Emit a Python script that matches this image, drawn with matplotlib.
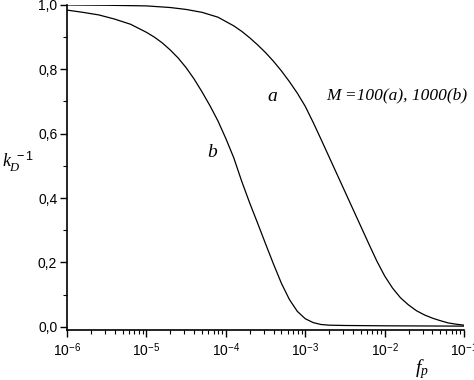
import matplotlib

matplotlib.use("Agg")
import matplotlib.pyplot as plt
import numpy as np
from matplotlib.ticker import FixedLocator, FuncFormatter, LogLocator, NullFormatter

# log10(f_p) positions and k_D^-1 values
logf_a = [-6.0, -5.5, -5.0, -4.7, -4.5, -4.3, -4.1, -3.9, -3.8, -3.7, -3.6, -3.5,
          -3.4, -3.3, -3.2, -3.1, -3.0, -2.9, -2.8, -2.7, -2.6, -2.5, -2.4, -2.3,
          -2.2, -2.1, -2.0, -1.9, -1.8, -1.7, -1.6, -1.5, -1.4, -1.3, -1.2, -1.1, -1.0]
kinv_a = [1.0, 0.999, 0.997, 0.992, 0.986, 0.977, 0.962, 0.935, 0.918, 0.898, 0.876, 0.852,
          0.825, 0.795, 0.762, 0.726, 0.685, 0.635, 0.582, 0.528, 0.474, 0.42, 0.366, 0.312,
          0.258, 0.205, 0.158, 0.12, 0.09, 0.068, 0.05, 0.037, 0.027, 0.019, 0.012, 0.008, 0.005]

logf_b = [-6.0, -5.8, -5.6, -5.4, -5.2, -5.0, -4.9, -4.8, -4.7, -4.6, -4.5, -4.4,
          -4.3, -4.2, -4.1, -4.0, -3.9, -3.8, -3.7, -3.6, -3.5, -3.4, -3.3, -3.2,
          -3.1, -3.0, -2.9, -2.8, -2.7, -2.5, -2.0, -1.0]
kinv_b = [0.984, 0.977, 0.969, 0.956, 0.94, 0.915, 0.90, 0.882, 0.86, 0.835, 0.805, 0.77,
          0.73, 0.687, 0.64, 0.585, 0.525, 0.452, 0.385, 0.322, 0.258, 0.195, 0.135, 0.085,
          0.048, 0.025, 0.013, 0.007, 0.005, 0.004, 0.003, 0.002]

y_ticks = [0.0, 0.2, 0.4, 0.6, 0.8, 1.0]
x_decades = [-6, -5, -4, -3, -2, -1]

plt.rcParams["font.family"] = "Liberation Sans"
plt.rcParams["mathtext.fontset"] = "custom"
plt.rcParams["mathtext.rm"] = "Liberation Sans"
plt.rcParams["mathtext.it"] = "Liberation Serif:italic"

fig = plt.figure(figsize=(4.74, 3.8), dpi=100)
ax = fig.add_axes([0.1414, 0.1316, 0.8376, 0.8554])

ax.plot(10 ** np.array(logf_a), kinv_a, color="black", lw=0.9)
ax.plot(10 ** np.array(logf_b), kinv_b, color="black", lw=0.9)

ax.set_xscale("log")
ax.set_xlim(1e-6, 1e-1)
ax.set_ylim(-0.01, 1.0)

ax.spines["top"].set_visible(False)
ax.spines["right"].set_visible(False)
ax.spines["left"].set_linewidth(1.2)
ax.spines["bottom"].set_linewidth(1.2)

ax.xaxis.set_major_locator(FixedLocator([10.0 ** d for d in x_decades]))
ax.xaxis.set_major_formatter(FuncFormatter(lambda v, p: "$10^{%d}$" % round(np.log10(v))))
ax.xaxis.set_minor_locator(LogLocator(base=10, subs=np.arange(2, 10)))
ax.xaxis.set_minor_formatter(NullFormatter())

ax.yaxis.set_major_locator(FixedLocator(y_ticks))
ax.yaxis.set_major_formatter(FuncFormatter(lambda v, p: f"{v:.1f}".replace(".", ",")))
ax.yaxis.set_minor_locator(FixedLocator([0.1, 0.3, 0.5, 0.7, 0.9]))

ax.tick_params(which="major", direction="out", length=5, width=1, labelsize=10, pad=2)
ax.tick_params(which="minor", direction="out", length=3, width=0.8)
ax.tick_params(axis="x", which="major", pad=3)

# curve labels and annotation
serif_it = dict(family="Liberation Serif", style="italic", color="black")
ax.text(10 ** -3.41, 0.714, "a", fontsize=14, ha="center", va="center", **serif_it)
ax.text(10 ** -4.17, 0.54, "b", fontsize=14, ha="center", va="center", **serif_it)
ax.text(10 ** -2.73, 0.72, "M =100(a), 1000(b)", fontsize=12.5, ha="left", va="center", **serif_it)

fig.text(0.004, 0.575, r"$k_D^{\ -1}$", fontsize=13, ha="left", va="center")
fig.text(0.89, 0.03, r"$f_p$", fontsize=14, ha="center", va="center")

fig.savefig("out.png", dpi=100)
